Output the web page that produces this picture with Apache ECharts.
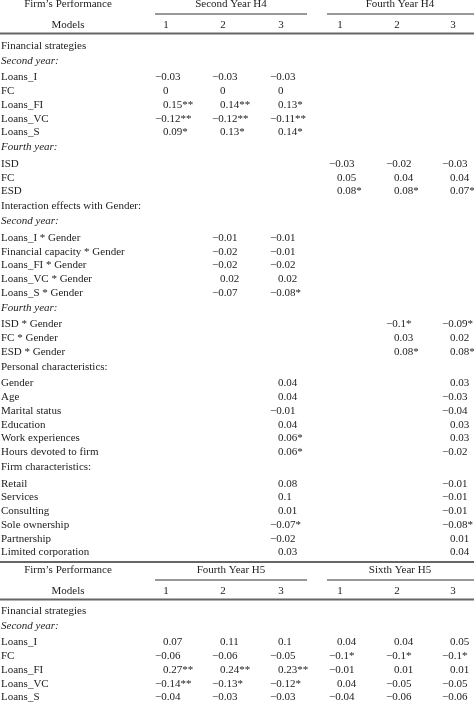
<!DOCTYPE html>
<html><head><meta charset="utf-8">
<script src="https://cdn.jsdelivr.net/npm/echarts@6/dist/echarts.min.js"></script>
<style>html,body{margin:0;background:#fff}#main{width:474px;height:703px}</style>
</head><body><div id="main"></div>
<script>
// table 1: H4
const groups1 = ["Second Year H4", "Fourth Year H4"];
const rows1 = [
    ["h", "Financial strategies"],
    ["i", "Second year:"],
    ["d", "Loans_I", ["−0.03", "−0.03", "−0.03", "", "", ""]],
    ["d", "FC", ["0", "0", "0", "", "", ""]],
    ["d", "Loans_FI", ["0.15**", "0.14**", "0.13*", "", "", ""]],
    ["d", "Loans_VC", ["−0.12**", "−0.12**", "−0.11**", "", "", ""]],
    ["d", "Loans_S", ["0.09*", "0.13*", "0.14*", "", "", ""]],
    ["i", "Fourth year:"],
    ["d", "ISD", ["", "", "", "−0.03", "−0.02", "−0.03"]],
    ["d", "FC", ["", "", "", "0.05", "0.04", "0.04"]],
    ["d", "ESD", ["", "", "", "0.08*", "0.08*", "0.07*"]],
    ["h", "Interaction effects with Gender:"],
    ["i", "Second year:"],
    ["d", "Loans_I * Gender", ["", "−0.01", "−0.01", "", "", ""]],
    ["d", "Financial capacity * Gender", ["", "−0.02", "−0.01", "", "", ""]],
    ["d", "Loans_FI * Gender", ["", "−0.02", "−0.02", "", "", ""]],
    ["d", "Loans_VC * Gender", ["", "0.02", "0.02", "", "", ""]],
    ["d", "Loans_S * Gender", ["", "−0.07", "−0.08*", "", "", ""]],
    ["i", "Fourth year:"],
    ["d", "ISD * Gender", ["", "", "", "", "−0.1*", "−0.09*"]],
    ["d", "FC * Gender", ["", "", "", "", "0.03", "0.02"]],
    ["d", "ESD * Gender", ["", "", "", "", "0.08*", "0.08*"]],
    ["h", "Personal characteristics:"],
    ["d", "Gender", ["", "", "0.04", "", "", "0.03"]],
    ["d", "Age", ["", "", "0.04", "", "", "−0.03"]],
    ["d", "Marital status", ["", "", "−0.01", "", "", "−0.04"]],
    ["d", "Education", ["", "", "0.04", "", "", "0.03"]],
    ["d", "Work experiences", ["", "", "0.06*", "", "", "0.03"]],
    ["d", "Hours devoted to firm", ["", "", "0.06*", "", "", "−0.02"]],
    ["h", "Firm characteristics:"],
    ["d", "Retail", ["", "", "0.08", "", "", "−0.01"]],
    ["d", "Services", ["", "", "0.1", "", "", "−0.01"]],
    ["d", "Consulting", ["", "", "0.01", "", "", "−0.01"]],
    ["d", "Sole ownership", ["", "", "−0.07*", "", "", "−0.08*"]],
    ["d", "Partnership", ["", "", "−0.02", "", "", "0.01"]],
    ["d", "Limited corporation", ["", "", "0.03", "", "", "0.04"]]
];
// table 2: H5
const groups2 = ["Fourth Year H5", "Sixth Year H5"];
const rows2 = [
    ["h", "Financial strategies"],
    ["i", "Second year:"],
    ["d", "Loans_I", ["0.07", "0.11", "0.1", "0.04", "0.04", "0.05"]],
    ["d", "FC", ["−0.06", "−0.06", "−0.05", "−0.1*", "−0.1*", "−0.1*"]],
    ["d", "Loans_FI", ["0.27**", "0.24**", "0.23**", "−0.01", "0.01", "0.01"]],
    ["d", "Loans_VC", ["−0.14**", "−0.13*", "−0.12*", "0.04", "−0.05", "−0.05"]],
    ["d", "Loans_S", ["−0.04", "−0.03", "−0.03", "−0.04", "−0.06", "−0.06"]]
];
const models = ["1", "2", "3", "1", "2", "3"];

const colX = [163, 220, 278, 337, 394, 450];
const font = '"Liberation Serif", "DejaVu Serif", serif';
const ink = '#222';
const els = [];

function txt(x, y, s, align, style) {
    els.push({
        type: 'text', x: x, y: y,
        style: Object.assign({ text: s, fill: ink, font: '11px ' + font, align: align, verticalAlign: 'middle' }, style || {})
    });
}
function hline(x1, x2, y, w, c) {
    els.push({ type: 'line', shape: { x1: x1, y1: y, x2: x2, y2: y }, style: { stroke: c || '#333', lineWidth: w } });
}
function header(top, groups) {
    txt(68, top + 4, "Firm’s Performance", 'center');
    txt(231, top + 4, groups[0], 'center');
    txt(400, top + 4, groups[1], 'center');
    hline(155, 307, top + 14, 1);
    hline(327, 474, top + 14, 1);
    txt(68, top + 25, "Models", 'center');
    models.forEach(function (m, i) { txt(colX[i] + 3, top + 25, m, 'center'); });
    hline(0, 474, top + 33.5, 2, '#666');
}
function body(start, rows) {
    let y = start;
    let prev = null;
    rows.forEach(function (r, k) {
        if (k > 0) {
            if (r[0] !== 'd') y += 15;
            else if (prev !== 'd') y += 16.5;
            else y += 13.75;
        }
        if (r[0] === 'i') txt(1, y, r[1], 'left', { font: 'italic 11px ' + font });
        else txt(1, y, r[1], 'left');
        if (r[0] === 'd') {
            r[2].forEach(function (v, i) {
                if (!v) return;
                const neg = v.charAt(0) === '−';
                txt(colX[i] - (neg ? 8 : 0), y, v, 'left');
            });
        }
        prev = r[0];
    });
    return y;
}

header(0, groups1);
const end1 = body(46, rows1);
hline(0, 474, end1 + 9.5, 2, '#666');
header(566, groups2);
body(611, rows2);

const chart = echarts.init(document.getElementById('main'));
chart.setOption({ graphic: { elements: els } });
</script>
</body></html>
